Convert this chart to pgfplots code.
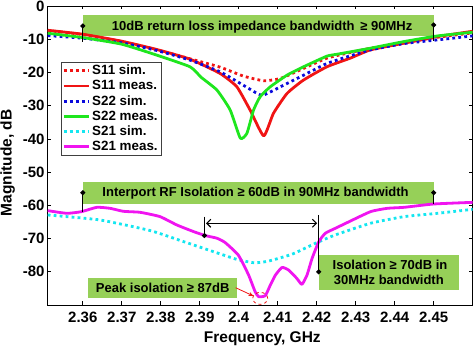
\documentclass[border=0pt]{standalone}
\usepackage{fontspec}
\setmainfont{Liberation Sans}
\usepackage{pgfplots}
\pgfplotsset{compat=1.18}
\usetikzlibrary{arrows.meta}

\definecolor{cR}{RGB}{240,20,20}
\definecolor{cG}{RGB}{30,230,30}
\definecolor{cB}{RGB}{10,10,220}
\definecolor{cC}{RGB}{20,230,240}
\definecolor{cM}{RGB}{240,20,240}
\definecolor{boxg}{RGB}{150,208,88}
\newcommand\annfont{\fontsize{13}{15}\selectfont\bfseries}

\begin{document}
\begin{tikzpicture}
\begin{axis}[
 scale only axis, width=425pt, height=299pt,
 xmin=2.351, xmax=2.46, ymin=-90, ymax=0,
 xtick={2.36,2.37,2.38,2.39,2.4,2.41,2.42,2.43,2.44,2.45},
 xticklabels={2.36,2.37,2.38,2.39,2.4,2.41,2.42,2.43,2.44,2.45},
 ytick={-80,-70,-60,-50,-40,-30,-20,-10,0},
 yticklabels={-80,-70,-60,-50,-40,-30,-20,-10,0},
 tick align=inside, major tick length=3.5pt,
 tick style={black, line width=0.6pt},
 axis line style={black, line width=0.8pt},
 ticklabel style={font=\fontsize{15}{17}\selectfont\bfseries},
 xticklabel style={anchor=base, yshift=-18pt, inner sep=0pt},
 yticklabel style={anchor=east, inner sep=0pt, xshift=-3pt},
 xlabel={Frequency, GHz}, ylabel={Magnitude, dB},
 label style={font=\fontsize{15.5}{18}\selectfont\bfseries},
 xlabel style={at={(rel axis cs:0.505,0)}, anchor=base, yshift=-38pt, inner sep=0pt},
 ylabel style={at={([xshift=-47.5pt]rel axis cs:0,0.475)}, anchor=north, inner sep=0pt},
 legend style={at={(rel axis cs:0.031,0.814)}, anchor=north west, draw=black!75, line width=0.6pt, fill=white, font=\fontsize{13.4}{15}\selectfont\bfseries, inner sep=1.2pt, row sep=0.2pt},
 legend cell align=left,
 legend image code/.code={\draw[#1] (0pt,0pt) -- (25pt,0pt);},
]
% annotation boxes
\fill[boxg] (axis cs:2.36,-2.7) rectangle (axis cs:2.45,-8.9);
\node[anchor=base, inner sep=0pt, font=\annfont] at (axis cs:2.406,-7.3) {10dB return loss impedance bandwidth\, ≥ 90MHz};
\fill[boxg] (axis cs:2.36,-52.9) rectangle (axis cs:2.45,-59.7);
\node[anchor=base, inner sep=0pt, font=\annfont] at (axis cs:2.4043,-57.4) {Interport RF Isolation ≥ 60dB in 90MHz bandwidth};
\fill[boxg] (axis cs:2.4206,-75) rectangle (axis cs:2.4565,-85.5);
\node[anchor=base, inner sep=0pt, font=\annfont] at (axis cs:2.4388,-79.3) {Isolation ≥ 70dB in};
\node[anchor=base, inner sep=0pt, font=\annfont] at (axis cs:2.4385,-83.8) {30MHz bandwidth};
\fill[boxg] (axis cs:2.3614,-82) rectangle (axis cs:2.3995,-88);
\node[anchor=base, inner sep=0pt, font=\annfont] at (axis cs:2.3805,-86.3) {Peak isolation ≥ 87dB};

\pgfplotsset{
 simst/.style={line width=2.8pt, dash pattern=on 2.8pt off 3.2pt, smooth, tension=0.3},
 measst/.style={line width=2.8pt, line join=round, smooth, tension=0.3}}
% S11 sim
\addplot[cR, simst] coordinates {
(2.351,-7.4)(2.36,-8.6)(2.37,-10.7)(2.379,-13.2)(2.3875,-15.9)(2.3952,-18.4)(2.4012,-21.1)(2.4064,-22.5)(2.4107,-21.8)(2.4166,-18.8)(2.4226,-15.7)(2.4286,-14.0)(2.4338,-12.7)(2.4424,-11.0)(2.451,-9.4)(2.46,-8.1)};
\addlegendentry{S11 sim.}
% S11 meas
\addplot[cR, measst] coordinates {
(2.351,-7.3)(2.36,-8.5)(2.37,-10.6)(2.379,-13.1)(2.3875,-16.0)(2.3952,-20.3)(2.3995,-24.3)(2.4029,-31.3)(2.4064,-39.1)(2.4089,-32.3)(2.4124,-26.3)(2.4166,-22.3)(2.4226,-18.3)(2.4286,-15.7)(2.4338,-13.2)(2.4424,-11.2)(2.451,-9.2)(2.46,-7.6)};
\addlegendentry{S11 meas.}
% S22 sim
\addplot[cB, simst] coordinates {
(2.351,-8.9)(2.36,-9.7)(2.37,-11.1)(2.379,-13.4)(2.3875,-16.3)(2.3952,-19.8)(2.4004,-23.3)(2.4047,-26.3)(2.4064,-26.8)(2.4124,-23.3)(2.4175,-20.3)(2.4226,-17.3)(2.4286,-15.0)(2.4338,-13.2)(2.4424,-11.3)(2.451,-10.2)(2.46,-9.0)};
\addlegendentry{S22 sim.}
% S22 meas
\addplot[cG, measst] coordinates {
(2.351,-8.2)(2.36,-9.5)(2.37,-11.5)(2.379,-14.8)(2.3875,-18.3)(2.3904,-21.5)(2.3944,-25.3)(2.3978,-31.3)(2.4004,-39.8)(2.4021,-38.3)(2.4038,-31.3)(2.4055,-27.3)(2.4081,-24.3)(2.4124,-20.8)(2.4166,-18.3)(2.4226,-15.1)(2.4253,-14.5)(2.4338,-12.7)(2.4424,-10.7)(2.451,-9.0)(2.46,-7.9)};
\addlegendentry{S22 meas.}
% S21 sim
\addplot[cC, simst] coordinates {
(2.351,-62.9)(2.3644,-64.4)(2.3773,-67.6)(2.3858,-70.9)(2.3944,-74.3)(2.3996,-76.3)(2.404,-77.3)(2.4076,-76.8)(2.4137,-74.7)(2.4197,-71.4)(2.4248,-68.9)(2.4338,-65.4)(2.4424,-63.4)(2.451,-62.4)(2.46,-61.2)};
\addlegendentry{S21 sim.}
% S21 meas
\addplot[cM, measst] coordinates {
(2.351,-61.6)(2.3559,-62.4)(2.3597,-61.9)(2.3636,-60.6)(2.367,-60.9)(2.3704,-61.8)(2.3747,-62.1)(2.3798,-63.4)(2.3841,-65.9)(2.3884,-67.9)(2.3914,-69.1)(2.3944,-69.9)(2.3965,-71.2)(2.3999,-75.0)(2.4025,-80.9)(2.4042,-86.0)(2.4051,-87.5)(2.4068,-87.2)(2.4081,-84.0)(2.4094,-81.0)(2.4111,-78.7)(2.4128,-79.5)(2.4149,-82.0)(2.4162,-83.8)(2.4175,-81.0)(2.4188,-76.0)(2.4205,-71.0)(2.4222,-68.4)(2.4248,-66.9)(2.4278,-65.2)(2.4338,-61.9)(2.4381,-60.9)(2.4424,-60.6)(2.45,-59.6)(2.46,-59.1)};
\addlegendentry{S21 meas.}

% bars with dots
\pgfplotsset{barst/.style={black, line width=1.1pt, mark=*, mark size=1.9pt, mark options={solid, fill=black}, forget plot}}
\addplot[barst, mark indices={1}] coordinates {(2.36,-6)(2.36,-10.9)};
\addplot[barst, mark indices={1}] coordinates {(2.45,-5.7)(2.45,-10.4)};
\addplot[barst, mark indices={1}] coordinates {(2.36,-56.2)(2.36,-62.1)};
\addplot[barst, mark indices={1}] coordinates {(2.45,-56.2)(2.45,-59.6)};
\addplot[barst, mark indices={2}] coordinates {(2.3912,-63.4)(2.3912,-69.1)};
\addplot[barst, mark indices={2}] coordinates {(2.4205,-62.9)(2.4205,-80)};
\draw[black, line width=1.1pt, {Straight Barb[length=4pt,width=8pt]}-{Straight Barb[length=4pt,width=8pt]}] (axis cs:2.3916,-65.4) -- (axis cs:2.4201,-65.4);
\draw[cR, line width=0.8pt, -{Stealth[length=5pt,width=4pt]}] (axis cs:2.3992,-84.8) -- (axis cs:2.4038,-87.3);
\draw[cR, dashed, line width=0.8pt] (axis cs:2.4055,-88) ellipse [x radius=7.5pt, y radius=6pt];

\coordinate (SW) at (rel axis cs:0,0);
\coordinate (NE) at (rel axis cs:1,1);
\end{axis}
\pgfresetboundingbox
\path ([shift={(-47.7pt,-42pt)}]SW) rectangle ([shift={(1.3pt,6pt)}]NE);
\end{tikzpicture}
\end{document}
